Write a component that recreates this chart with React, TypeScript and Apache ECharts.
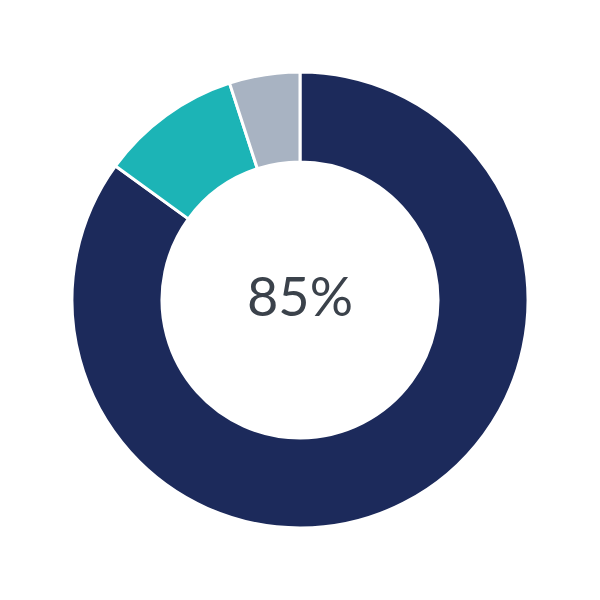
import React, { useEffect, useRef } from "react";
import * as echarts from "echarts";

const categories = ["A", "B", "C"];
const values = [85, 10, 5];
const colors = ["#1c2a5b", "#1cb4b6", "#a8b3c2"];
const centerLabel = "85%";

export default function App() {
  const ref = useRef<HTMLDivElement>(null);
  useEffect(() => {
    const chart = echarts.init(ref.current!, null, { renderer: "svg" });
    chart.setOption({
      animation: false,
      graphic: [
        {
          type: "text",
          x: 300,
          y: 295,
          silent: true,
          style: {
            text: centerLabel,
            fontFamily: "Lato",
            fontWeight: "normal",
            fontSize: 54,
            fill: "#3b424b",
            align: "center",
            verticalAlign: "middle",
          },
        },
      ],
      series: [
        {
          type: "pie",
          center: ["50%", "50%"],
          radius: [138, 228],
          startAngle: 90,
          clockwise: true,
          label: { show: false },
          labelLine: { show: false },
          silent: true,
          itemStyle: { borderColor: "#ffffff", borderWidth: 3 },
          data: categories.map((c, i) => ({
            name: c,
            value: values[i],
            itemStyle: { color: colors[i] },
          })),
        },
      ],
    });
    return () => chart.dispose();
  }, []);
  return (
    <div
      ref={ref}
      style={{ position: "fixed", left: 0, top: 0, width: 600, height: 600, background: "#fff" }}
    />
  );
}
